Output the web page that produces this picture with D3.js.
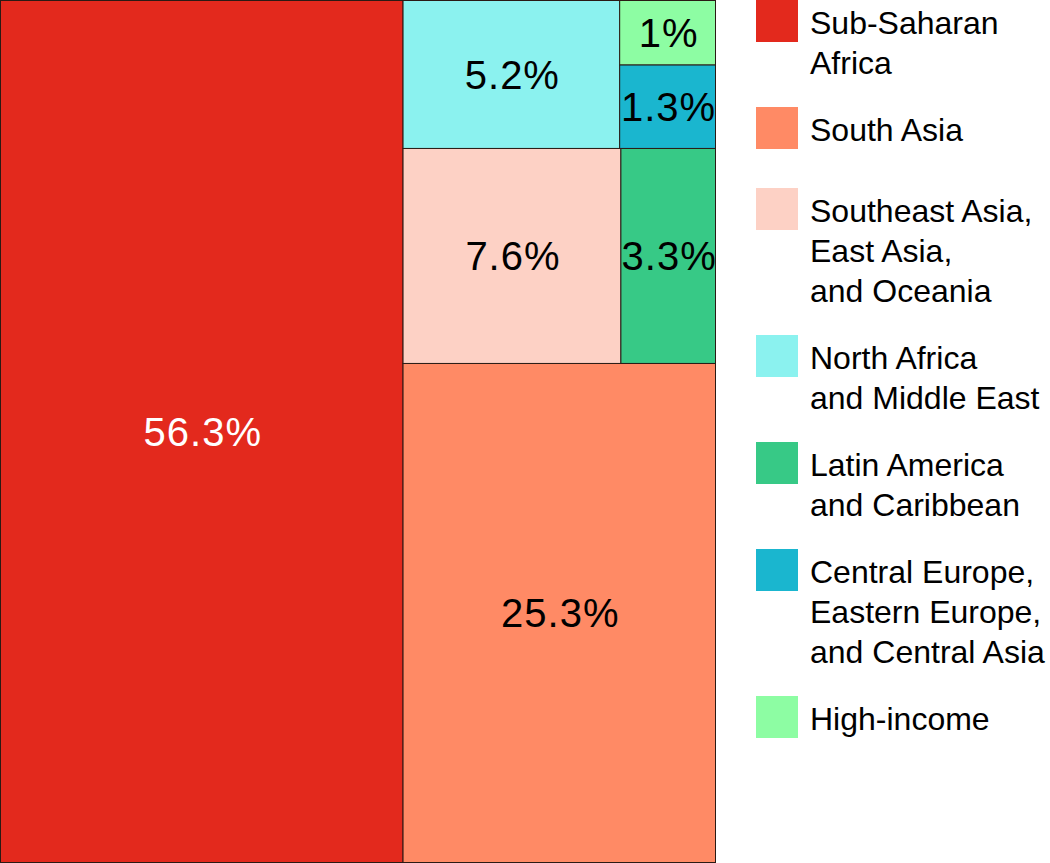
<!DOCTYPE html>
<html>
<head>
<meta charset="utf-8">
<script src="https://cdn.jsdelivr.net/npm/d3@7"></script>
<style>
  body { margin: 0; background: #fff; }
  text { font-family: "Liberation Sans", Arial, sans-serif; }
</style>
</head>
<body>
<script>
//canvas size
var w = 1050, h = 863;

//regions, "|" marks a legend line break
var regions = [
    "Sub-Saharan|Africa",
    "South Asia",
    "Southeast Asia,|East Asia,|and Oceania",
    "North Africa|and Middle East",
    "Latin America|and Caribbean",
    "Central Europe,|Eastern Europe,|and Central Asia",
    "High-income"
];
//share of total, percent
var shares = [56.3, 25.3, 7.6, 5.2, 3.3, 1.3, 1];
var colors = ["#e3291d", "#ff8a65", "#fdd1c5", "#8bf2ef", "#37c986", "#1ab6cf", "#8dfda3"];

//how the box is cut: side the row sits on, and the regions (by index) in it
var tileRows = [
    ["left", [0]],
    ["bottom", [1]],
    ["bottom", [2, 4]],
    ["left", [3]],
    ["bottom", [5]],
    ["bottom", [6]]
];

var svg = d3.select("body")
    .append("svg")
    .attr("width", w)
    .attr("height", h);

var data = regions.map(function(r, i){
    return {name: r, share: shares[i], color: colors[i], index: i};
});

var root = d3.hierarchy({children: data})
    .sum(function(d){ return d.share || 0; });

//custom tile so rows land like the reference
function tile(parent, x0, y0, x1, y1) {
    var byIndex = {};
    parent.children.forEach(function(n){ byIndex[n.data.index] = n; });
    var total = parent.value;
    tileRows.forEach(function(r){
        var row = r[1].map(function(i){ return byIndex[i]; });
        var v = d3.sum(row, function(n){ return n.value; });
        var f = v / total;
        total -= v;
        if (r[0] === "left") {
            var xk = x0 + (x1 - x0) * f, y = y0;
            row.forEach(function(n){
                n.x0 = x0; n.x1 = xk;
                n.y0 = y; y += (y1 - y0) * n.value / v; n.y1 = y;
            });
            x0 = xk;
        } else {
            var yk = y1 - (y1 - y0) * f, x = x0;
            row.forEach(function(n){
                n.y0 = yk; n.y1 = y1;
                n.x0 = x; x += (x1 - x0) * n.value / v; n.x1 = x;
            });
            y1 = yk;
        }
    });
}

d3.treemap()
    .size([715, 862])
    .tile(tile)(root);

var map = svg.append("g")
    .attr("transform", "translate(0.5,0.5)");

var cells = map.selectAll(".cell")
    .data(root.leaves())
    .enter()
    .append("g")
    .attr("class", "cell");

cells.append("rect")
    .attr("x", function(d){ return d.x0; })
    .attr("y", function(d){ return d.y0; })
    .attr("width", function(d){ return d.x1 - d.x0; })
    .attr("height", function(d){ return d.y1 - d.y0; })
    .style("fill", function(d){ return d.data.color; })
    .style("stroke", "#2a1a14")
    .style("stroke-width", 1);

cells.append("text")
    .attr("x", function(d){ return (d.x0 + d.x1) / 2 + 1; })
    .attr("y", function(d){ return (d.y0 + d.y1) / 2; })
    .attr("dy", "0.36em")
    .attr("text-anchor", "middle")
    .style("font-size", "40px")
    .style("letter-spacing", "1px")
    .style("fill", function(d){ return d.data.index === 0 ? "#fff" : "#000"; })
    .text(function(d){ return d.data.share + "%"; });

//legend, item height grows with the number of lines
var lineH = 40;
var legendY = 0;
var legend = svg.append("g")
    .attr("class", "legend");

data.forEach(function(d){
    var lines = d.name.split("|");
    var item = legend.append("g")
        .attr("transform", "translate(756," + legendY + ")");
    item.append("rect")
        .attr("width", 42)
        .attr("height", 42)
        .style("fill", d.color);
    var label = item.append("text")
        .attr("y", 34)
        .style("font-size", "32px")
        .style("fill", "#000");
    lines.forEach(function(l, i){
        label.append("tspan")
            .attr("x", 54)
            .attr("dy", i === 0 ? 0 : lineH)
            .text(l);
    });
    legendY += Math.max(lines.length * lineH, 54) + 27;
});
</script>
</body>
</html>
